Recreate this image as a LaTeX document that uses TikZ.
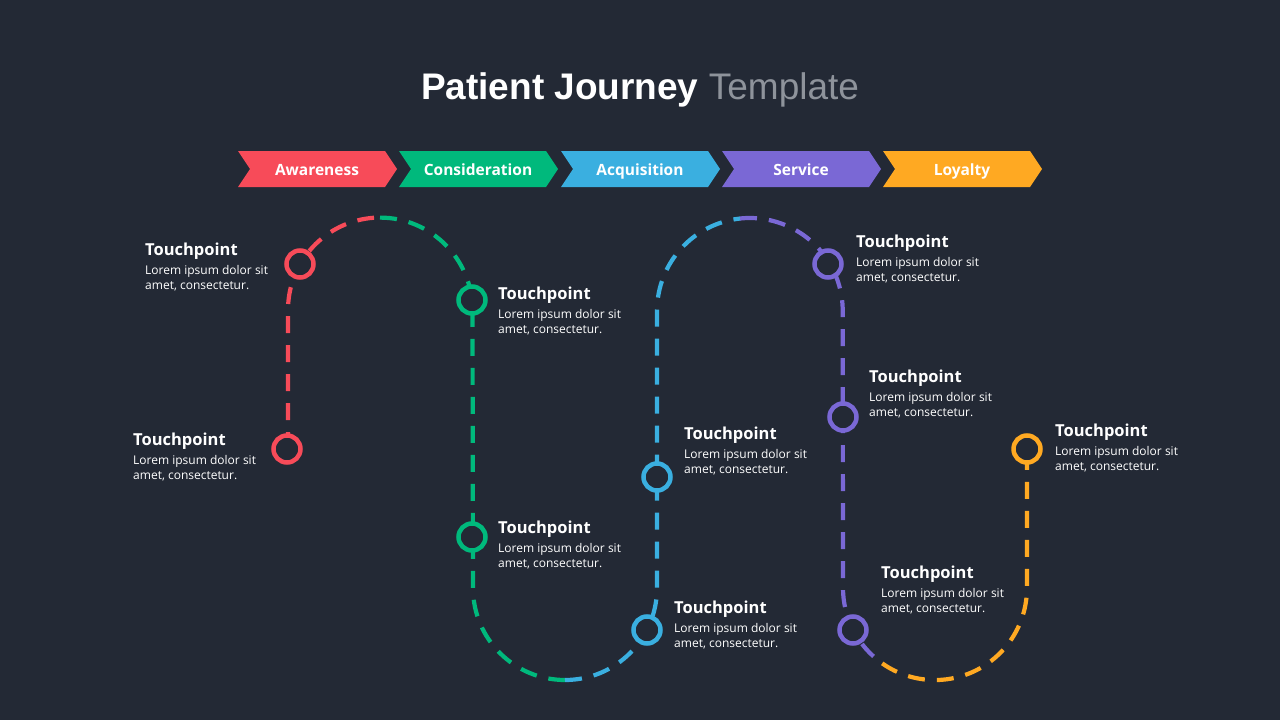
\documentclass[tikz,border=0pt]{standalone}
\usepackage{fontspec}
\setmainfont{Open Sans}
\newfontfamily\titlefont{Liberation Sans}
\begin{document}
\definecolor{bg}{HTML}{232935}
\definecolor{cred}{HTML}{F74B59}
\definecolor{cgreen}{HTML}{00B97C}
\definecolor{cblue}{HTML}{3AAFE0}
\definecolor{cpurple}{HTML}{7A68D5}
\definecolor{corange}{HTML}{FFA922}
\definecolor{tgray}{HTML}{8E939B}
\begin{tikzpicture}[x=1pt,y=-1pt,
  trail/.style={line width=4.2pt,dash pattern=on 17pt off 12pt},
  ring/.style={circle,draw=#1,line width=4.5pt,fill=bg,minimum size=27pt,inner sep=0},
  tp/.style={anchor=north west,inner sep=0,align=left,text=white,font=\fontsize{12}{15.5}\selectfont},
  chev/.style={fill=#1}]
\fill[bg] (0,0) rectangle (1280,720);
\useasboundingbox (0,0) rectangle (1280,720);
\node (title) at (640,90) {\titlefont\fontsize{37}{40}\selectfont\textcolor{white}{\bfseries Patient Journey} \textcolor{tgray}{Template}};
% chevrons
\foreach \x/\c/\t/\n in {238/cred/Awareness/a,399/cgreen/Consideration/b,561/cblue/Acquisition/c,722/cpurple/Service/d,883/corange/Loyalty/e}{
  \fill[\c] (\x,151) -- (\x+147,151) -- (\x+159,169) -- (\x+147,187) -- (\x,187) -- (\x+12,169) -- cycle;
  \node[text=white,anchor=base,inner sep=0,font=\bfseries\fontsize{15.5}{18}\selectfont] (\n) at (\x+79,175) {\t};
}
% trail
\coordinate (r0) at (288,449);
\coordinate (r1) at (288,310);
\coordinate (g2) at (473,588);
\coordinate (b2) at (657,311);
\coordinate (p2) at (843,588);
\coordinate (o2) at (1027,449);
\draw[trail,cred] (r0) -- (r1) arc[start angle=180,end angle=266,radius=92.5];
\draw[trail,cgreen] (380,217.6) arc[start angle=-90,end angle=0,radius=92.5] -- (g2) arc[start angle=180,end angle=90,radius=92];
\draw[trail,cblue] (565,680) arc[start angle=90,end angle=0,radius=92] -- (b2) arc[start angle=180,end angle=264,radius=93];
\draw[trail,cpurple] (740,218.5) arc[start angle=264,end angle=360,radius=93] -- (p2) arc[start angle=180,end angle=125,radius=92];
\draw[trail,corange] (882.2,663.4) arc[start angle=125,end angle=0,radius=92] -- (o2);
% rings
\node[ring=cred] (n1) at (300,264) {};
\node[ring=cred] (n2) at (287,449) {};
\node[ring=cgreen] (n3) at (472,300) {};
\node[ring=cgreen] (n4) at (472,537) {};
\node[ring=cblue] (n5) at (657,477) {};
\node[ring=cblue] (n6) at (647,630) {};
\node[ring=cpurple] (n7) at (828,264) {};
\node[ring=cpurple] (n8) at (843,417) {};
\node[ring=cpurple] (n9) at (853,630) {};
\node[ring=corange] (n10) at (1027,449) {};
% texts
\foreach \x/\y/\n in {145/243/t1,133/433/t2,498/287/t3,498/521/t4,684/427/t5,674/601/t6,856/235/t7,869/370/t8,881/566/t9,1055/424/t10}{
  \node[tp] (\n) at (\x,\y) {{\bfseries\fontsize{16.5}{20}\selectfont Touchpoint}\\[3pt]Lorem ipsum dolor sit\\amet, consectetur.};
}
\end{tikzpicture}
\end{document}
